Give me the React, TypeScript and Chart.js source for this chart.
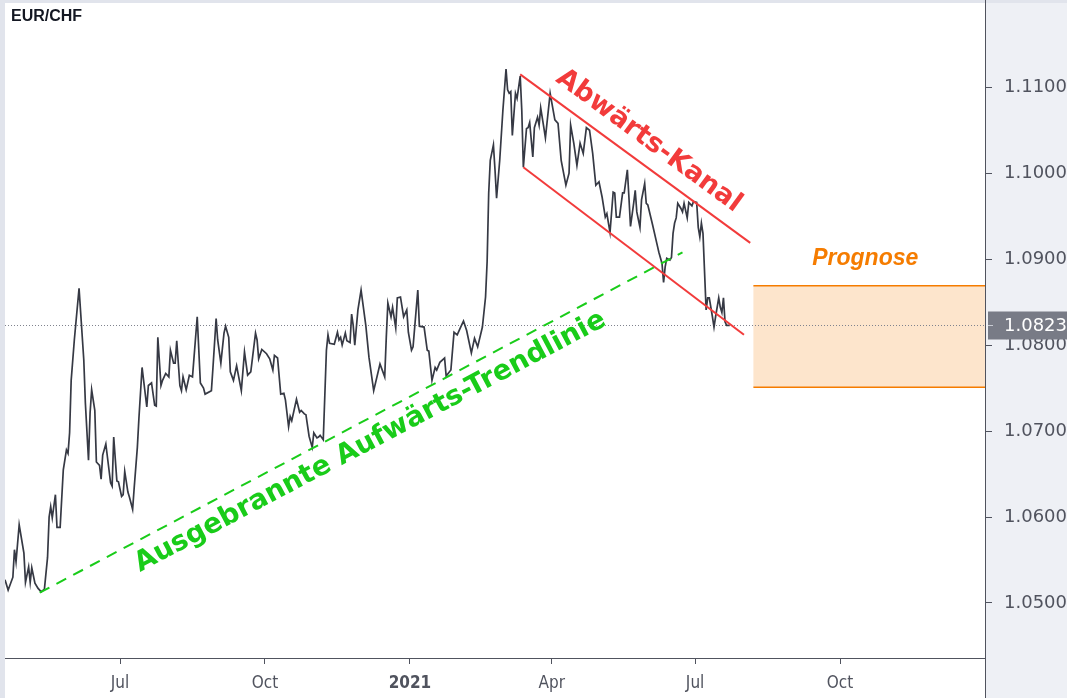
import React, { useEffect, useRef } from "react";
import { Chart, registerables } from "chart.js";

Chart.register(...registerables);

// ---- Data (EUR/CHF closes) ----
const dates: string[] = [
  "2020-04-19","2020-04-21","2020-04-24","2020-04-25","2020-04-26","2020-04-28","2020-05-01","2020-05-02","2020-05-04","2020-05-05",
  "2020-05-06","2020-05-08","2020-05-10","2020-05-12","2020-05-14","2020-05-16","2020-05-17","2020-05-18","2020-05-19","2020-05-21",
  "2020-05-22","2020-05-24","2020-05-26","2020-05-28","2020-05-29","2020-05-30","2020-05-31","2020-06-02","2020-06-05","2020-06-08",
  "2020-06-09","2020-06-11","2020-06-12","2020-06-13","2020-06-15","2020-06-16","2020-06-18","2020-06-19","2020-06-20","2020-06-22",
  "2020-06-24","2020-06-25","2020-06-26","2020-06-27","2020-06-29","2020-06-30","2020-07-02","2020-07-03","2020-07-04","2020-07-06",
  "2020-07-07","2020-07-09","2020-07-10","2020-07-12","2020-07-13","2020-07-15","2020-07-18","2020-07-19","2020-07-21","2020-07-23",
  "2020-07-24","2020-07-25","2020-07-27","2020-07-28","2020-07-30","2020-08-01","2020-08-02","2020-08-04","2020-08-05","2020-08-06",
  "2020-08-08","2020-08-09","2020-08-10","2020-08-12","2020-08-14","2020-08-16","2020-08-19","2020-08-21","2020-08-23","2020-08-24",
  "2020-08-28","2020-08-29","2020-08-31","2020-09-01","2020-09-03","2020-09-05","2020-09-06","2020-09-08","2020-09-09","2020-09-11",
  "2020-09-13","2020-09-16","2020-09-18","2020-09-20","2020-09-22","2020-09-25","2020-09-26","2020-09-27","2020-09-29","2020-10-02",
  "2020-10-04","2020-10-06","2020-10-07","2020-10-09","2020-10-11","2020-10-13","2020-10-14","2020-10-16","2020-10-17","2020-10-18",
  "2020-10-21","2020-10-23","2020-10-24","2020-10-26","2020-10-27","2020-10-29","2020-10-31","2020-11-01","2020-11-03","2020-11-04",
  "2020-11-05","2020-11-07","2020-11-09","2020-11-10","2020-11-11","2020-11-14","2020-11-16","2020-11-17","2020-11-18","2020-11-19",
  "2020-11-21","2020-11-22","2020-11-24","2020-11-25","2020-11-26","2020-11-27","2020-11-29","2020-12-01","2020-12-04","2020-12-06",
  "2020-12-09","2020-12-13","2020-12-16","2020-12-17","2020-12-18","2020-12-20","2020-12-21","2020-12-23","2020-12-24","2020-12-26",
  "2020-12-28","2020-12-30","2020-12-31","2021-01-02","2021-01-03","2021-01-06","2021-01-07","2021-01-10","2021-01-12","2021-01-13",
  "2021-01-15","2021-01-17","2021-01-18","2021-01-20","2021-01-23","2021-01-24","2021-01-27","2021-01-29","2021-01-31","2021-02-02",
  "2021-02-04","2021-02-06","2021-02-09","2021-02-11","2021-02-13","2021-02-16","2021-02-18","2021-02-19","2021-02-20","2021-02-21",
  "2021-02-23","2021-02-24","2021-02-25","2021-02-27","2021-03-01","2021-03-03","2021-03-04","2021-03-05","2021-03-06","2021-03-07",
  "2021-03-09","2021-03-10","2021-03-12","2021-03-13","2021-03-14","2021-03-16","2021-03-17","2021-03-18","2021-03-20","2021-03-21",
  "2021-03-23","2021-03-24","2021-03-25","2021-03-27","2021-03-28","2021-03-31","2021-04-03","2021-04-05","2021-04-07","2021-04-10",
  "2021-04-12","2021-04-13","2021-04-15","2021-04-17","2021-04-19","2021-04-21","2021-04-23","2021-04-25","2021-04-27","2021-04-29",
  "2021-05-01","2021-05-03","2021-05-05","2021-05-06","2021-05-08","2021-05-10","2021-05-11","2021-05-12","2021-05-14","2021-05-16",
  "2021-05-17","2021-05-19","2021-05-20","2021-05-21","2021-05-23","2021-05-24","2021-05-25","2021-05-27","2021-05-28","2021-05-30",
  "2021-05-31","2021-06-01","2021-06-04","2021-06-07","2021-06-08","2021-06-10","2021-06-11","2021-06-12","2021-06-13","2021-06-15",
  "2021-06-16","2021-06-17","2021-06-18","2021-06-19","2021-06-20","2021-06-22","2021-06-23","2021-06-24","2021-06-26","2021-06-27",
  "2021-06-29","2021-06-30","2021-07-02","2021-07-03","2021-07-04","2021-07-05","2021-07-06","2021-07-08","2021-07-09","2021-07-10",
  "2021-07-12","2021-07-13","2021-07-14","2021-07-16","2021-07-17","2021-07-18","2021-07-19","2021-07-20","2021-07-21","2021-07-23",
];

const closes: number[] = [
  1.0527,1.0515,1.0530,1.0562,1.0548,1.0591,1.0558,1.0524,1.0542,1.0524,
  1.0541,1.0523,1.0517,1.0513,1.0516,1.0553,1.0600,1.0612,1.0599,1.0626,
  1.0588,1.0588,1.0655,1.0678,1.0674,1.0698,1.0759,1.0806,1.0866,1.0783,
  1.0733,1.0666,1.0721,1.0748,1.0724,1.0664,1.0660,1.0644,1.0672,1.0685,
  1.0655,1.0640,1.0636,1.0693,1.0642,1.0641,1.0624,1.0626,1.0653,1.0629,
  1.0623,1.0609,1.0634,1.0681,1.0715,1.0774,1.0728,1.0753,1.0756,1.0730,
  1.0729,1.0809,1.0753,1.0759,1.0767,1.0763,1.0794,1.0779,1.0779,1.0805,
  1.0753,1.0747,1.0763,1.0748,1.0765,1.0763,1.0833,1.0756,1.0750,1.0743,
  1.0747,1.0774,1.0831,1.0806,1.0779,1.0814,1.0822,1.0809,1.0769,1.0759,
  1.0776,1.0747,1.0792,1.0765,1.0769,1.0814,1.0806,1.0784,1.0795,1.0790,
  1.0784,1.0771,1.0788,1.0785,1.0743,1.0744,1.0736,1.0705,1.0717,1.0712,
  1.0737,1.0722,1.0724,1.0720,1.0719,1.0694,1.0681,1.0698,1.0692,1.0693,
  1.0695,1.0690,1.0794,1.0812,1.0802,1.0801,1.0815,1.0806,1.0809,1.0800,
  1.0814,1.0805,1.0803,1.0836,1.0823,1.0800,1.0841,1.0864,1.0823,1.0786,
  1.0747,1.0778,1.0763,1.0809,1.0849,1.0833,1.0844,1.0820,1.0855,1.0856,
  1.0833,1.0841,1.0815,1.0794,1.0798,1.0864,1.0822,1.0821,1.0794,1.0793,
  1.0759,1.0774,1.0771,1.0780,1.0785,1.0764,1.0771,1.0815,1.0812,1.0820,
  1.0828,1.0817,1.0791,1.0808,1.0798,1.0821,1.0856,1.0897,1.0977,1.1015,
  1.1033,1.1004,1.0971,1.1015,1.1073,1.1121,1.1097,1.1093,1.1095,1.1044,
  1.1093,1.1087,1.1113,1.1073,1.1007,1.1052,1.1053,1.1059,1.1019,1.1053,
  1.1065,1.1056,1.1076,1.1053,1.1041,1.1093,1.1062,1.1058,1.1015,1.0986,
  1.1000,1.1056,1.1035,1.1009,1.1035,1.1023,1.1053,1.1050,1.1023,1.0986,
  1.0990,1.0972,1.0949,1.0953,1.0931,1.0978,1.0977,1.0949,1.0949,1.0977,
  1.0977,1.1004,1.0972,1.0938,1.0965,1.0980,1.0955,1.0937,1.0969,1.0988,
  1.0965,1.0963,1.0940,1.0916,1.0908,1.0895,1.0873,1.0891,1.0901,1.0899,
  1.0902,1.0930,1.0942,1.0948,1.0965,1.0959,1.0955,1.0965,1.0948,1.0966,
  1.0962,1.0967,1.0966,1.0937,1.0926,1.0942,1.0930,1.0841,1.0855,1.0855,
  1.0833,1.0821,1.0833,1.0855,1.0844,1.0838,1.0855,1.0827,1.0823,1.0823,
];

// ---- Axes ----
const xRangeDates = ["2020-04-19", "2022-01-01"];
const yRange = [1.0436, 1.1198];
const monthTickDates = ["2020-07-01", "2020-10-01", "2021-01-01", "2021-04-01", "2021-07-01", "2021-10-01"];
const monthTickLabels = ["Jul", "Oct", "2021", "Apr", "Jul", "Oct"];
const priceTicks = [1.05, 1.06, 1.07, 1.08, 1.09, 1.10, 1.11];
const chartTitle = "EUR/CHF";

// ---- Drawings ----
const trendDates = ["2020-05-11", "2021-06-23"];
const trendValues = [1.0512, 1.0908];
const channelTopDates = ["2021-03-12", "2021-08-05"];
const channelTopValues = [1.1115, 1.0919];
const channelBottomDates = ["2021-03-14", "2021-08-01"];
const channelBottomValues = [1.1007, 1.0812];
const forecastDates = ["2021-08-07", "2022-01-01"];
const forecastValues = [1.0869, 1.0751];

const trendLabel = "Ausgebrannte Aufwärts-Trendlinie";
const trendLabelDate = "2020-12-09";
const trendLabelValue = 1.0680;
const channelLabel = "Abwärts-Kanal";
const channelLabelDate = "2021-05-30";
const channelLabelValue = 1.1031;
const forecastLabel = "Prognose";
const forecastLabelDate = "2021-10-17";
const forecastLabelValue = 1.0893;

const dayNum = (s: string) => {
  const [y, m, d] = s.split("-").map(Number);
  return Date.UTC(y, m - 1, d) / 86400000;
};

const AXIS_COLOR = "#50535e";
const RED = "#f23b3b";
const GREEN = "#19cc19";
const ORANGE = "#f57c00";

const drawingsPlugin = {
  id: "drawings",
  beforeDraw(chart: any) {
    const { ctx, width, height } = chart;
    const area = chart.chartArea;
    ctx.save();
    ctx.fillStyle = "#ffffff";
    ctx.fillRect(0, 0, width, height);
    ctx.fillStyle = "#eef0f5";
    ctx.fillRect(area.right, 0, width - area.right, height);
    ctx.fillStyle = "#e1e4ec";
    ctx.fillRect(0, 0, area.left, height);
    ctx.fillRect(0, 0, width, area.top);
    ctx.restore();
  },
  beforeDatasetsDraw(chart: any) {
    const { ctx } = chart;
    const xs = chart.scales.x;
    const ys = chart.scales.y;
    const area = chart.chartArea;
    ctx.save();
    // forecast box
    const bx1 = xs.getPixelForValue(dayNum(forecastDates[0]));
    const bx2 = Math.min(xs.getPixelForValue(dayNum(forecastDates[1])), area.right);
    const by1 = ys.getPixelForValue(forecastValues[0]);
    const by2 = ys.getPixelForValue(forecastValues[1]);
    ctx.fillStyle = "rgba(245,124,0,0.2)";
    ctx.fillRect(bx1, by1, bx2 - bx1, by2 - by1);
    ctx.strokeStyle = ORANGE;
    ctx.lineWidth = 1.5;
    ctx.beginPath();
    ctx.moveTo(bx1, by1);
    ctx.lineTo(bx2, by1);
    ctx.moveTo(bx1, by2);
    ctx.lineTo(bx2, by2);
    ctx.stroke();
    // forecast label
    ctx.fillStyle = ORANGE;
    ctx.font = 'italic bold 23px "Liberation Sans", Arial, sans-serif';
    ctx.textAlign = "center";
    ctx.textBaseline = "alphabetic";
    ctx.fillText(forecastLabel, xs.getPixelForValue(dayNum(forecastLabelDate)), ys.getPixelForValue(forecastLabelValue));
    // last price dotted line
    const last = closes[closes.length - 1];
    const ly = Math.round(ys.getPixelForValue(last)) + 0.5;
    ctx.strokeStyle = "#80838e";
    ctx.lineWidth = 1;
    ctx.setLineDash([1, 2]);
    ctx.beginPath();
    ctx.moveTo(area.left, ly);
    ctx.lineTo(area.right, ly);
    ctx.stroke();
    ctx.restore();
  },
  afterDatasetsDraw(chart: any) {
    const { ctx } = chart;
    const xs = chart.scales.x;
    const ys = chart.scales.y;
    const line = (d: string[], v: number[], color: string, width: number, dash: number[]) => {
      const x1 = xs.getPixelForValue(dayNum(d[0]));
      const y1 = ys.getPixelForValue(v[0]);
      const x2 = xs.getPixelForValue(dayNum(d[1]));
      const y2 = ys.getPixelForValue(v[1]);
      ctx.strokeStyle = color;
      ctx.lineWidth = width;
      ctx.setLineDash(dash);
      ctx.beginPath();
      ctx.moveTo(x1, y1);
      ctx.lineTo(x2, y2);
      ctx.stroke();
      return Math.atan2(y2 - y1, x2 - x1);
    };
    ctx.save();
    const trendAngle = line(trendDates, trendValues, GREEN, 2, [11, 8]);
    const chanAngle = line(channelTopDates, channelTopValues, RED, 2, []);
    line(channelBottomDates, channelBottomValues, RED, 2, []);
    ctx.setLineDash([]);

    const label = (text: string, d: string, v: number, angle: number, font: string, color: string) => {
      ctx.save();
      ctx.translate(xs.getPixelForValue(dayNum(d)), ys.getPixelForValue(v));
      ctx.rotate(angle);
      ctx.font = font;
      ctx.fillStyle = color;
      ctx.textAlign = "center";
      ctx.textBaseline = "alphabetic";
      ctx.fillText(text, 0, 0);
      ctx.restore();
    };
    label(trendLabel, trendLabelDate, trendLabelValue, trendAngle, 'bold 27.5px "DejaVu Sans", Verdana, sans-serif', GREEN);
    label(channelLabel, channelLabelDate, channelLabelValue, chanAngle, 'bold 27px "DejaVu Sans", Verdana, sans-serif', RED);
    ctx.restore();
  },
  afterDraw(chart: any) {
    const { ctx, width, height } = chart;
    const area = chart.chartArea;
    const ys = chart.scales.y;
    ctx.save();
    // axis lines
    ctx.strokeStyle = AXIS_COLOR;
    ctx.lineWidth = 1;
    ctx.beginPath();
    ctx.moveTo(area.right + 0.5, 0);
    ctx.lineTo(area.right + 0.5, height);
    ctx.moveTo(area.left, area.bottom + 0.5);
    ctx.lineTo(area.right, area.bottom + 0.5);
    ctx.stroke();
    // last price label
    const last = closes[closes.length - 1];
    const ly = Math.round(ys.getPixelForValue(last)) + 0.5;
    ctx.fillStyle = "#787b86";
    ctx.fillRect(area.right + 3, ly - 14, width - area.right - 3, 28);
    ctx.strokeStyle = "#c9ccd4";
    ctx.beginPath();
    ctx.moveTo(area.right + 3, ly);
    ctx.lineTo(area.right + 8, ly);
    ctx.stroke();
    ctx.fillStyle = "#ffffff";
    ctx.font = '18px "DejaVu Sans", sans-serif';
    ctx.textAlign = "left";
    ctx.textBaseline = "middle";
    ctx.fillText(last.toFixed(4), area.right + 19, ly + 1);
    // title
    ctx.fillStyle = "#131722";
    ctx.font = 'bold 16px "Liberation Sans", Arial, sans-serif';
    ctx.textBaseline = "alphabetic";
    ctx.fillText(chartTitle, area.left + 6, 21);
    ctx.restore();
  },
};

const zeroPad = (s: any) => {
  s.paddingLeft = 0;
  s.paddingRight = 0;
  s.paddingTop = 0;
  s.paddingBottom = 0;
};

export default function App() {
  const canvasRef = useRef<HTMLCanvasElement | null>(null);

  useEffect(() => {
    document.body.style.margin = "0";
    const canvas = canvasRef.current;
    if (!canvas) return;
    const points = dates.map((d, i) => ({ x: dayNum(d), y: closes[i] }));
    const chart = new Chart(canvas, {
      type: "line",
      data: {
        datasets: [
          {
            label: chartTitle,
            data: points,
            borderColor: "#363944",
            borderWidth: 1.7,
            pointRadius: 0,
            tension: 0,
            fill: false,
          },
        ],
      },
      options: {
        animation: false,
        responsive: false,
        devicePixelRatio: 1,
        layout: { padding: { left: 5, top: 3, right: 0, bottom: 0 } },
        plugins: { legend: { display: false }, tooltip: { enabled: false }, title: { display: false } },
        scales: {
          x: {
            type: "linear",
            min: dayNum(xRangeDates[0]),
            max: dayNum(xRangeDates[1]),
            border: { display: false },
            grid: { display: true, drawOnChartArea: false, drawTicks: true, tickLength: 6, color: AXIS_COLOR },
            afterBuildTicks: (axis: any) => {
              axis.ticks = monthTickDates.map((d) => ({ value: dayNum(d) }));
            },
            ticks: {
              autoSkip: false,
              maxRotation: 0,
              minRotation: 0,
              padding: 9,
              color: AXIS_COLOR,
              callback: (_v: any, i: number) => monthTickLabels[i],
              font: (c: any) => ({
                family: '"DejaVu Sans Condensed", "Liberation Sans Narrow", "Liberation Sans", sans-serif',
                size: 17,
                weight: c.tick && c.tick.label === "2021" ? "bold" : "normal",
              }),
            },
            afterFit: (s: any) => {
              s.height = 40;
              zeroPad(s);
            },
          },
          y: {
            type: "linear",
            position: "right",
            min: yRange[0],
            max: yRange[1],
            border: { display: false },
            grid: { display: true, drawOnChartArea: false, drawTicks: true, tickLength: 7, color: AXIS_COLOR },
            afterBuildTicks: (axis: any) => {
              axis.ticks = priceTicks.map((v) => ({ value: v }));
            },
            ticks: {
              padding: 12,
              color: AXIS_COLOR,
              font: { family: '"DejaVu Sans", sans-serif', size: 18 },
              callback: (v: any) => Number(v).toFixed(4),
            },
            afterFit: (s: any) => {
              s.width = 82;
              zeroPad(s);
            },
          },
        },
      },
      plugins: [drawingsPlugin],
    } as any);
    return () => chart.destroy();
  }, []);

  return (
    <div style={{ width: 1067, height: 698, position: "relative" }}>
      <canvas ref={canvasRef} width={1067} height={698} style={{ display: "block" }} />
    </div>
  );
}
